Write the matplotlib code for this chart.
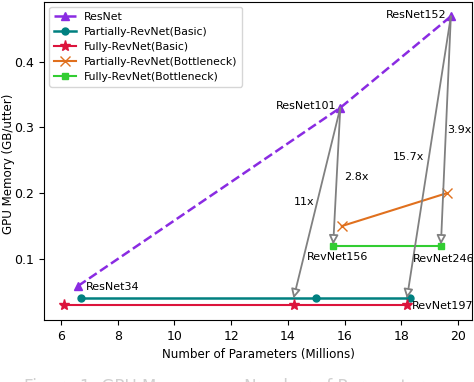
import numpy as np
import matplotlib
matplotlib.use('Agg')
import matplotlib.pyplot as plt

# Data
resnet_params = [6.6, 15.85, 19.75]
resnet_mem = [0.059, 0.330, 0.469]

prev_basic_params = [6.7, 15.0, 18.3]
prev_basic_mem = [0.040, 0.040, 0.040]

frev_basic_params = [6.1, 14.2, 18.2]
frev_basic_mem = [0.030, 0.030, 0.030]

prev_bottle_params = [15.9, 19.6]
prev_bottle_mem = [0.150, 0.200]

frev_bottle_params = [15.6, 19.4]
frev_bottle_mem = [0.120, 0.120]

# arrows: (start, end, label, label position)
arrows = [
    ((15.85, 0.330), (14.2, 0.040), '11x', (14.2, 0.186)),
    ((15.85, 0.330), (15.6, 0.122), '2.8x', (15.98, 0.224)),
    ((19.75, 0.469), (18.2, 0.040), '15.7x', (17.7, 0.255)),
    ((19.75, 0.469), (19.4, 0.122), '3.9x', (19.62, 0.296)),
]

# point labels: (text, x, y, ha)
point_labels = [
    ('ResNet34', 6.88, 0.058, 'left'),
    ('ResNet101', 15.7, 0.332, 'right'),
    ('ResNet152', 19.6, 0.471, 'right'),
    ('RevNet156', 15.75, 0.103, 'center'),
    ('RevNet246', 18.42, 0.100, 'left'),
    ('RevNet197', 18.37, 0.028, 'left'),
]

plt.rcParams['font.size'] = 9
fig = plt.figure(figsize=(4.74, 3.82), dpi=100)
ax = fig.add_axes([0.093, 0.162, 0.903, 0.833])

ax.plot(resnet_params, resnet_mem, '--^', color='blueviolet', lw=1.8, ms=6,
        label='ResNet')
ax.plot(prev_basic_params, prev_basic_mem, '-o', color='teal', lw=1.8, ms=5,
        label='Partially-RevNet(Basic)')
ax.plot(frev_basic_params, frev_basic_mem, '-*', color='crimson', lw=1.5, ms=8,
        label='Fully-RevNet(Basic)')
ax.plot(prev_bottle_params, prev_bottle_mem, '-x', color='#e0701e', lw=1.5, ms=7,
        label='Partially-RevNet(Bottleneck)')
ax.plot(frev_bottle_params, frev_bottle_mem, '-s', color='limegreen', lw=1.5, ms=4,
        label='Fully-RevNet(Bottleneck)')

for (s, e, lab, pos) in arrows:
    ax.annotate('', xy=e, xytext=s,
                arrowprops=dict(arrowstyle='-|>,head_length=0.6,head_width=0.3',
                                color='gray', fc='white', lw=1.3,
                                shrinkA=0, shrinkB=0))
    ax.text(pos[0], pos[1], lab, ha='left', va='center', fontsize=8)

for (t, x, y, ha) in point_labels:
    ax.text(x, y, t, ha=ha, va='center', fontsize=8)

ax.set_xlim(5.4, 20.5)
ax.set_ylim(0.007, 0.491)
ax.set_xticks([6, 8, 10, 12, 14, 16, 18, 20])
ax.set_yticks([0.1, 0.2, 0.3, 0.4])
ax.tick_params(labelsize=9)
ax.set_xlabel('Number of Parameters (Millions)', fontsize=8.6)
ax.set_ylabel('GPU Memory (GB/utter)', fontsize=8.6)
ax.yaxis.set_label_coords(-0.069, 0.49)
ax.legend(loc='upper left', fontsize=7.8, handlelength=2.0, labelspacing=0.45,
          borderpad=0.45, handletextpad=0.7)

# caption of the source figure, mostly cropped off at the bottom
fig.text(0.05, -0.026, 'Figure 1: GPU Memory vs. Number of Parameters',
         va='baseline', ha='left', fontsize=12, color='#d0d0d0')

fig.savefig('out.png', dpi=100)
